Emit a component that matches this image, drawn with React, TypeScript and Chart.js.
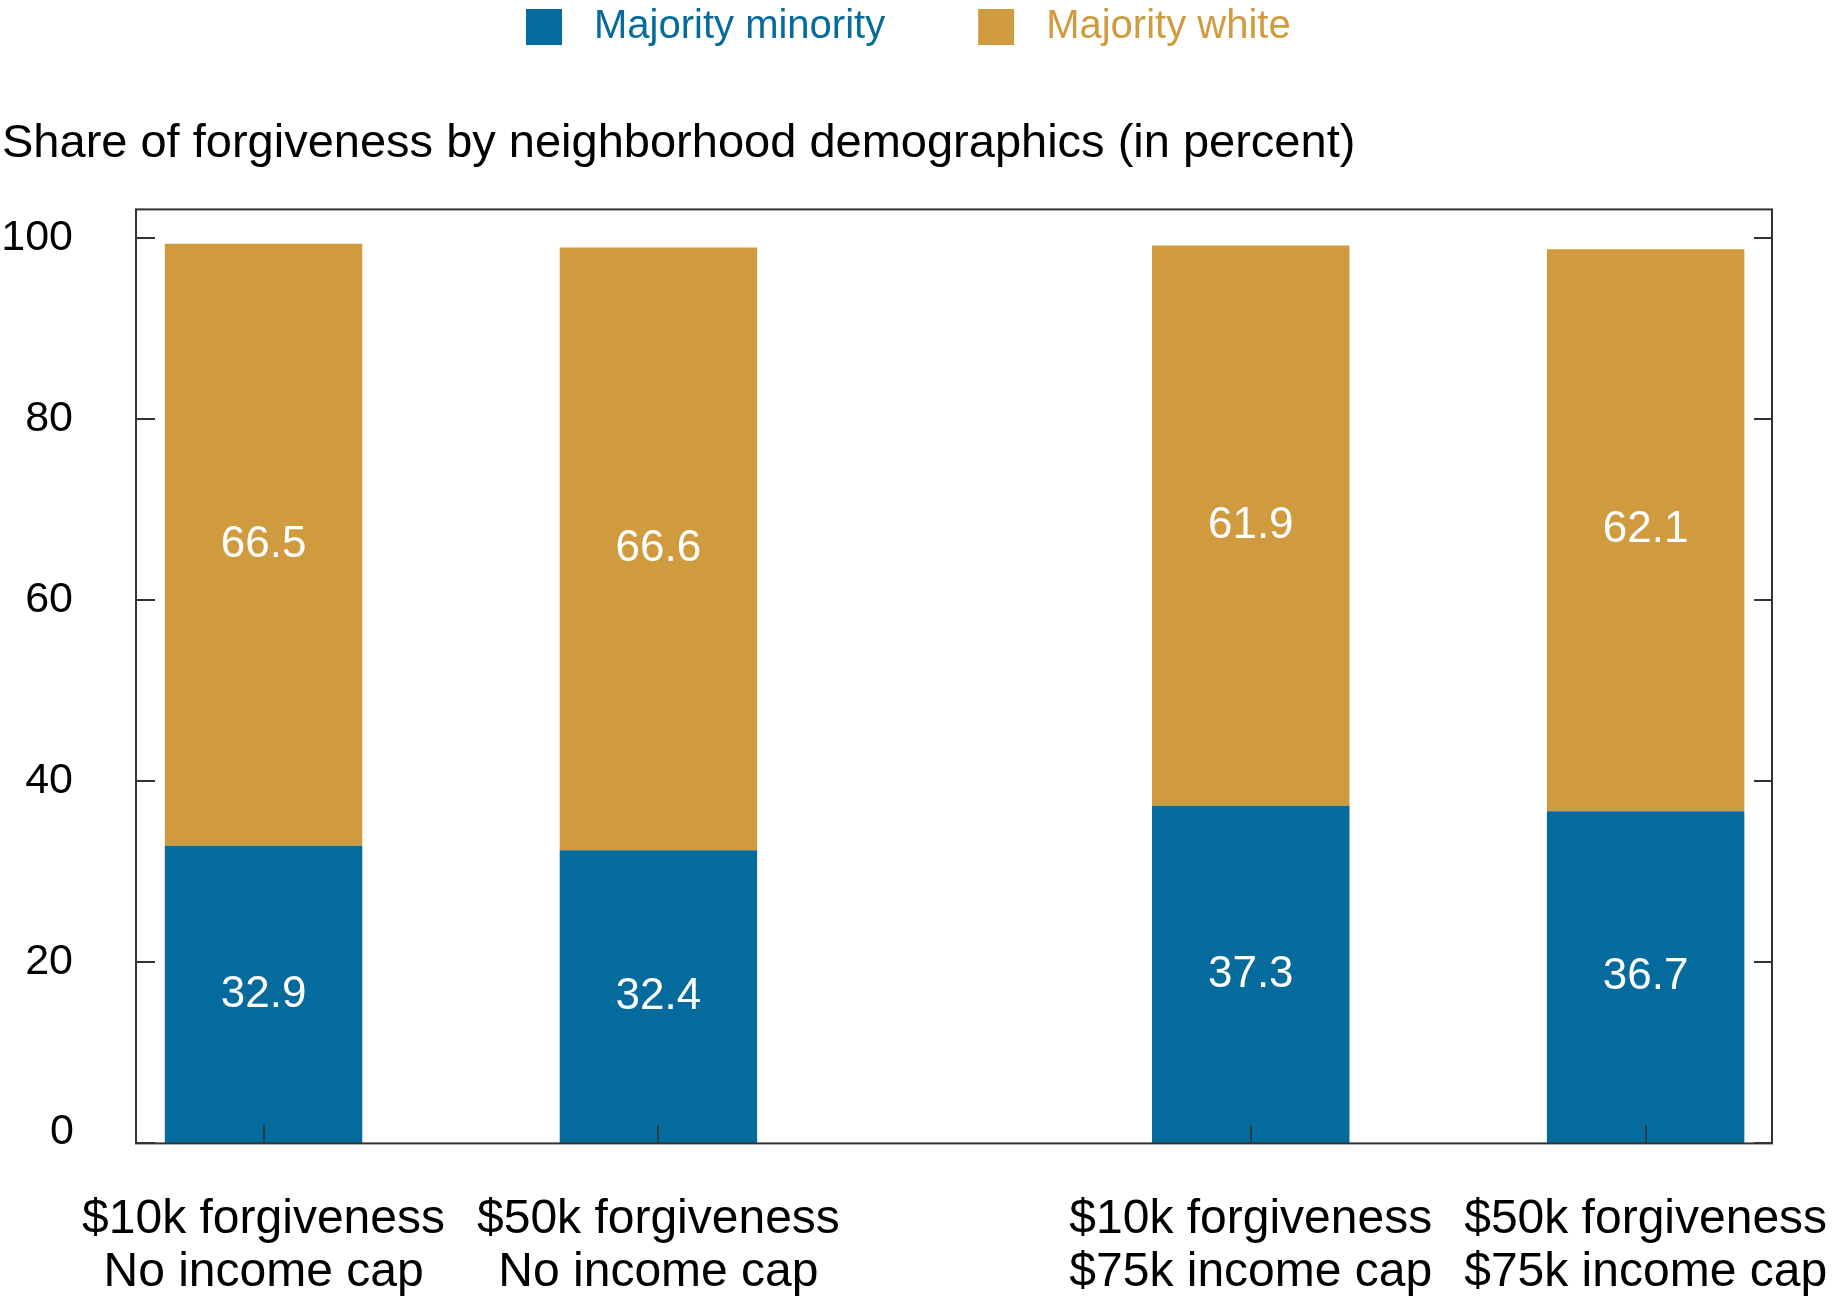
import React, { useEffect, useRef } from "react";
import { Chart, registerables } from "chart.js";

Chart.register(...registerables);

// ---- data ----
const categoryLines: string[][] = [
  ["$10k forgiveness", "No income cap"],
  ["$50k forgiveness", "No income cap"],
  ["$10k forgiveness", "$75k income cap"],
  ["$50k forgiveness", "$75k income cap"],
];
const groupSlots = [0, 1, 2.5, 3.5];
const seriesNames = ["Majority minority", "Majority white"];
const majorityMinority = [32.9, 32.4, 37.3, 36.7];
const majorityWhite = [66.5, 66.6, 61.9, 62.1];
const yTickValues = [0, 20, 40, 60, 80, 100];
const titleText = "Share of forgiveness by neighborhood demographics (in percent)";

// ---- styles ----
const FONT = '"Liberation Sans", Arial, Helvetica, sans-serif';
const BLUE = "#056a9c";
const GOLD = "#d09a3e";
const FRAME = "#333333";
const Y_LABEL_PAD = 63;

const barValueLabels = {
  id: "barValueLabels",
  afterDatasetsDraw(chart: any) {
    const ctx = chart.ctx;
    ctx.save();
    ctx.font = `44px ${FONT}`;
    ctx.fillStyle = "#ffffff";
    ctx.textAlign = "center";
    ctx.textBaseline = "middle";
    chart.data.datasets.forEach((ds: any, di: number) => {
      const meta = chart.getDatasetMeta(di);
      meta.data.forEach((el: any, i: number) => {
        const { x, y, base } = el.getProps(["x", "y", "base"], true);
        const v = ds.data[i].y as number;
        ctx.fillText(v.toFixed(1), x, (y + base) / 2);
      });
    });
    ctx.restore();
  },
};

const frameAndTicks = {
  id: "frameAndTicks",
  afterDatasetsDraw(chart: any) {
    const { ctx, chartArea, scales } = chart;
    const { left, right, top, bottom } = chartArea;
    ctx.save();
    ctx.strokeStyle = FRAME;
    ctx.lineWidth = 2;
    ctx.strokeRect(left, top, right - left, bottom - top);
    ctx.beginPath();
    scales.y.ticks.forEach((t: any) => {
      const py = Math.round(scales.y.getPixelForValue(t.value));
      ctx.moveTo(left, py);
      ctx.lineTo(left + 19, py);
      ctx.moveTo(right, py);
      ctx.lineTo(right - 18, py);
    });
    ctx.stroke();
    ctx.beginPath();
    ctx.lineWidth = 1.6;
    scales.x.ticks.forEach((t: any) => {
      const px = Math.round(scales.x.getPixelForValue(t.value));
      ctx.moveTo(px, bottom);
      ctx.lineTo(px, bottom - 18);
    });
    ctx.stroke();
    // the baseline label "0" sits on the axis line (raised), as in the source
    const zeroY = scales.y.getPixelForValue(yTickValues[0]);
    ctx.font = `43px ${FONT}`;
    ctx.fillStyle = "#000000";
    ctx.textAlign = "right";
    ctx.textBaseline = "alphabetic";
    ctx.fillText(String(yTickValues[0]), left - Y_LABEL_PAD + 1, zeroY + 1);
    ctx.restore();
  },
};

const topLegend = {
  id: "topLegend",
  afterDraw(chart: any) {
    const ctx = chart.ctx;
    ctx.save();
    ctx.font = `40px ${FONT}`;
    ctx.textBaseline = "middle";
    ctx.textAlign = "left";
    const box = 36;
    const gapText = 32;
    const gapItem = 93;
    let x = 526;
    chart.data.datasets.forEach((ds: any) => {
      const w = ctx.measureText(ds.label).width;
      ctx.fillStyle = ds.backgroundColor;
      ctx.fillRect(x, 9, box, box);
      ctx.fillText(ds.label, x + box + gapText, 27);
      x += box + gapText + w + gapItem;
    });
    ctx.restore();
  },
};

export default function App() {
  const canvasRef = useRef<HTMLCanvasElement | null>(null);

  useEffect(() => {
    document.body.style.margin = "0";
    const canvas = canvasRef.current;
    if (!canvas) return;
    const chart = new Chart(canvas, {
      type: "bar",
      data: {
        datasets: [
          {
            label: seriesNames[0],
            data: groupSlots.map((x, i) => ({ x, y: majorityMinority[i] })),
            backgroundColor: BLUE,
            borderWidth: 0,
          },
          {
            label: seriesNames[1],
            data: groupSlots.map((x, i) => ({ x, y: majorityWhite[i] })),
            backgroundColor: GOLD,
            borderWidth: 0,
          },
        ],
      },
      options: {
        animation: false,
        responsive: false,
        devicePixelRatio: 1,
        events: [],
        layout: { padding: { top: 75, left: 2, right: 68, bottom: 8 } },
        datasets: { bar: { categoryPercentage: 1, barPercentage: 0.5 } },
        plugins: {
          legend: { display: false },
          tooltip: { enabled: false },
          title: {
            display: true,
            text: titleText,
            align: "start",
            color: "#000000",
            font: { family: FONT, size: 47, weight: "normal" },
            padding: { top: 41, bottom: 37 },
          },
        },
        scales: {
          x: {
            type: "linear",
            min: -0.323,
            max: 3.82,
            offset: false,
            stacked: true,
            grid: { display: false, drawTicks: false },
            border: { display: false },
            afterBuildTicks: (axis: any) => {
              axis.ticks = groupSlots.map((v) => ({ value: v }));
            },
            afterFit: (axis: any) => {
              axis.paddingLeft = 0;
              axis.paddingRight = 0;
              axis.height = 50 + 2 * 48 * 1.1;
            },
            ticks: {
              autoSkip: false,
              maxRotation: 0,
              minRotation: 0,
              padding: 50,
              color: "#000000",
              font: { family: FONT, size: 48, lineHeight: 1.1 },
              callback: (_v: any, index: number) => categoryLines[index] ?? "",
            },
          },
          y: {
            type: "linear",
            min: 0,
            max: 103.2,
            stacked: true,
            grid: { display: false, drawTicks: false },
            border: { display: false },
            afterBuildTicks: (axis: any) => {
              axis.ticks = yTickValues.map((v) => ({ value: v }));
            },
            afterFit: (axis: any) => {
              axis.width = 134;
            },
            ticks: {
              padding: Y_LABEL_PAD,
              color: "#000000",
              font: { family: FONT, size: 43 },
              callback: (v: any) => (v === yTickValues[0] ? "" : String(v)),
            },
          },
        },
      },
      plugins: [barValueLabels, frameAndTicks, topLegend],
    } as any);
    return () => chart.destroy();
  }, []);

  return (
    <div style={{ width: 1840, height: 1307, background: "#ffffff" }}>
      <canvas ref={canvasRef} width={1840} height={1307} style={{ display: "block", width: 1840, height: 1307 }} />
    </div>
  );
}
